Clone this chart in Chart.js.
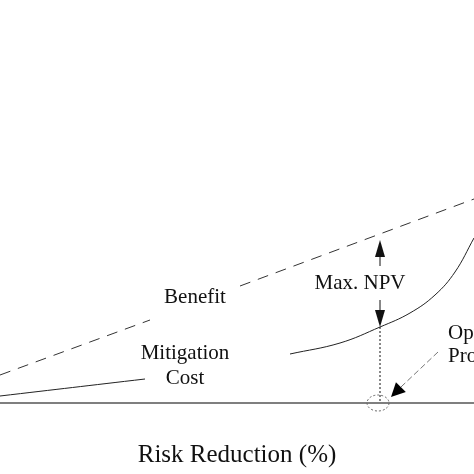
<!DOCTYPE html><html><head><style>html,body{margin:0;background:#fff}#w{width:474px;height:474px}</style>
<script src="https://cdn.jsdelivr.net/npm/chart.js@4"></script></head><body><div id="w"><canvas id="c"></canvas></div>
<script>
const benefitPts=[[0,375],[150,320],[null,null],[240,286],[474,199]];
const costPts=[[0,396],[145,379],[null,null],[290,354],[340,343],[380,327],[410,313],[435,295],[455,272],[474,238]];
const axisPts=[[0,403],[474,403]];
const npvX=380, npvTop=240, npvBottom=327;
const mk=a=>a.map(p=>p[0]===null?{x:200,y:null}:{x:p[0],y:p[1]});
const serif='"Liberation Serif", "DejaVu Serif", serif';
const ann={id:'ann',afterDatasetsDraw(ch){
 const c=ch.ctx,X=v=>ch.scales.x.getPixelForValue(v),Y=v=>ch.scales.y.getPixelForValue(v);
 c.save();c.fillStyle='#111';c.strokeStyle='#111';c.textAlign='center';c.textBaseline='middle';
 c.font='21px '+serif;
 c.fillText('Benefit',X(195),Y(297));c.fillText('Mitigation',X(185),Y(353));c.fillText('Cost',X(185),Y(378));
 c.fillText('Max. NPV',X(360),Y(283));
 c.textAlign='left';c.fillText('Optimal',X(448),Y(333));c.fillText('Protection',X(448),Y(356));
 c.textAlign='center';c.font='25px '+serif;c.fillText('Risk Reduction (%)',X(237),Y(455));
 c.lineWidth=1;
 const arr=(x1,y1,x2,y2,hl,hw)=>{const a=Math.atan2(y2-y1,x2-x1);c.beginPath();c.moveTo(x1,y1);c.lineTo(x2-hl*Math.cos(a),y2-hl*Math.sin(a));c.stroke();
  c.beginPath();c.moveTo(x2,y2);c.lineTo(x2-hl*Math.cos(a)+hw*Math.sin(a),y2-hl*Math.sin(a)-hw*Math.cos(a));c.lineTo(x2-hl*Math.cos(a)-hw*Math.sin(a),y2-hl*Math.sin(a)+hw*Math.cos(a));c.closePath();c.fill();};
 arr(X(npvX),Y(266),X(npvX),Y(npvTop),17,5);
 arr(X(npvX),Y(300),X(npvX),Y(npvBottom),17,5);
 c.setLineDash([2,2]);c.beginPath();c.moveTo(X(npvX),Y(npvBottom));c.lineTo(X(npvX),Y(403));c.stroke();
 c.beginPath();c.ellipse(X(378),Y(403),11,8,0,0,Math.PI*2);c.strokeStyle='#666';c.stroke();
 c.setLineDash([6,3]);c.strokeStyle='#777';
 c.beginPath();c.moveTo(X(438),Y(352));c.lineTo(X(402),Y(386));c.stroke();c.setLineDash([]);
 c.fillStyle='#000';arr(X(402),Y(386),X(391),Y(397),14,7);
 c.restore();}};
new Chart(document.getElementById('c'),{type:'scatter',data:{datasets:[
 {data:mk(benefitPts),showLine:true,borderColor:'#333',borderWidth:1,borderDash:[11,8],pointRadius:0,spanGaps:false},
 {data:mk(costPts),showLine:true,borderColor:'#222',borderWidth:1,pointRadius:0,tension:0.4,spanGaps:false},
 {data:mk(axisPts),showLine:true,borderColor:'#555',borderWidth:1.5,pointRadius:0}
]},options:{responsive:true,maintainAspectRatio:false,animation:false,layout:{padding:0},
 plugins:{legend:{display:false},tooltip:{enabled:false}},
 scales:{x:{type:'linear',min:0,max:474,display:false},y:{min:0,max:474,reverse:true,display:false}}},plugins:[ann]});
</script></body></html>
